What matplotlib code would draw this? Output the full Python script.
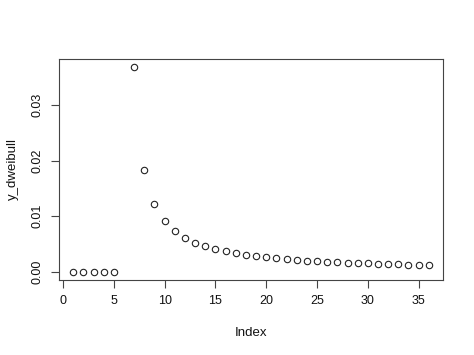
import numpy as np
import matplotlib
matplotlib.use("Agg")
import matplotlib.pyplot as plt

plt.rcParams['font.family'] = ['Liberation Sans', 'DejaVu Sans']

# values (index 6 has no point)
index = list(range(1, 37))
y_dweibull = [0.0, 0.0, 0.0, 0.0, 0.0, np.nan,
              0.03686, 0.01840, 0.01221, 0.00915, 0.00732, 0.00610,
              0.00523, 0.00457, 0.00406, 0.00366, 0.00332, 0.00305,
              0.00281, 0.00261, 0.00244, 0.00229, 0.00215, 0.00203,
              0.00192, 0.00183, 0.00174, 0.00166, 0.00159, 0.00152,
              0.00146, 0.00141, 0.00135, 0.00131, 0.00126, 0.00122]
x_ticks = [0, 5, 10, 15, 20, 25, 30, 35]
y_ticks = [0.00, 0.01, 0.02, 0.03]

fig = plt.figure(figsize=(4.74, 3.55), dpi=100)
ax = fig.add_axes([59 / 474, 1 - 280 / 355, 384 / 474, 221 / 355])

ax.plot(index, y_dweibull, linestyle='none', marker='o', markersize=4.6,
        markerfacecolor='none', markeredgecolor='#222222', markeredgewidth=0.8)

# R style: 4% padding around the data
ax.set_xlim(1 - 35 * 0.04, 36 + 35 * 0.04)
ymax = np.nanmax(y_dweibull)
ax.set_ylim(-ymax * 0.04, ymax * 1.04)

ax.set_xticks(x_ticks)
ax.set_yticks(y_ticks)
ax.set_yticklabels(['%.2f' % v for v in y_ticks], rotation=90, va='center')
ax.tick_params(direction='out', length=6, width=0.8, color='#444444',
               labelsize=9, pad=5, labelcolor='#111111')

for s in ax.spines.values():
    s.set_color('#444444')
    s.set_linewidth(0.8)

ax.set_xlabel('Index', fontsize=9.5, labelpad=14, color='#111111')
ax.set_ylabel('y_dweibull', fontsize=9.5, labelpad=9, color='#111111')

fig.savefig('out.png', dpi=100)
